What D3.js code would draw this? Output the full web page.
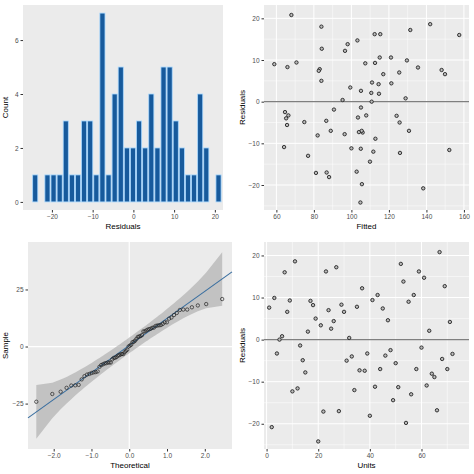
<!DOCTYPE html><html><head><meta charset="utf-8">
<script src="https://cdn.jsdelivr.net/npm/d3@7"></script>
<style>body{margin:0;background:#fff}text{font-family:"Liberation Sans",Arial,sans-serif}</style></head><body>
<svg id="c" width="474" height="474"></svg>
<script>
const binStart=-24.1, binWidth=1.5;
const binCounts=[1,0,1,1,1,3,1,1,3,3,1,7,1,4,5,2,2,3,2,4,2,5,5,3,2,1,1,4,2,0,1];
const residuals=[7.6,-20.8,9.9,-3.3,0,0.8,16,6.6,9.3,-12.3,18.6,-11.6,-1.4,-4.9,-7.8,1.9,9.2,8.2,5,-24.2,3.4,-17.1,16.2,7,2.6,4.4,17.2,-17,8.3,6.6,-5,0.4,-4,-12,7.8,-7.3,12.2,-7.4,-3.3,-18.1,9.4,-11.2,10.6,-7,7.4,-3.8,4.6,-2.5,-14.4,-5.6,-11.3,18,13.8,-19.8,9,-13,10.6,-7,16.2,-1.9,14.7,-10.9,2.1,-8.1,-8.9,-16.8,20.8,-4.6,12.7,-7,4.2,-3.4];
const fitted=[148.1,138.3,129.6,107.9,110.8,128.9,157.5,149.9,112.6,125.9,142,152.2,105.1,74.9,96.4,114.7,107.4,135.5,84,104.8,99.4,81.1,112.4,125.5,105.1,121.3,131.4,86.8,65.9,117,125.7,95.3,65.2,111.7,83.1,104,96.6,106,66.4,88.1,70.7,100,115.1,105.5,82.6,103.5,111,64.6,109.9,65.7,105,84,98,105.6,58.9,76.9,121.1,89,115.4,90.7,103.2,64.1,110.6,82,112.8,102.8,68,86.6,84.2,130.7,114.5,124.1];
const units=residuals.map((d,i)=>i+1);
const histTicksX=[-20,-10,0,10,20], histTicksY=[0,2,4,6];
const fitTicksX=[60,80,100,120,140,160], resTicksY=[-20,-10,0,10,20];
const qqTicksX=[-2,-1,0,1,2], qqTicksY=[-25,0,25], unitTicksX=[0,20,40,60];

const svg=d3.select("#c");
const PANEL="#ebebeb", TXT="#4d4d4d";
function panel(x0,x1,y0,y1,xd,yd){
  const g=svg.append("g");
  g.append("rect").attr("x",x0).attr("y",y0).attr("width",x1-x0).attr("height",y1-y0).attr("fill",PANEL);
  return {g,x:d3.scaleLinear().domain(xd).range([x0,x1]),y:d3.scaleLinear().domain(yd).range([y1,y0])};
}
function axes(p,xt,yt,xl,yl,ylx){
  const [x0,x1]=p.x.range(),[y1,y0]=p.y.range();
  const ax=svg.append("g").attr("transform",`translate(0,${y1})`).call(d3.axisBottom(p.x).tickValues(xt).tickSize(2.5).tickPadding(2));
  const ay=svg.append("g").attr("transform",`translate(${x0},0)`).call(d3.axisLeft(p.y).tickValues(yt).tickSize(2.5).tickPadding(2));
  [ax,ay].forEach(a=>{a.select(".domain").remove();a.selectAll("line").attr("stroke","#333");a.selectAll("text").attr("fill",TXT).attr("font-size",6.5);});
  svg.append("text").attr("x",(x0+x1)/2).attr("y",y1+19).attr("text-anchor","middle").attr("font-size",8).attr("fill","#000").text(xl);
  svg.append("text").attr("transform",`translate(${ylx},${(y0+y1)/2}) rotate(-90)`).attr("text-anchor","middle").attr("font-size",8).attr("fill","#000").text(yl);
}
function grid(p,xs,ys,w,c){
  const [x0,x1]=p.x.range(),[y1,y0]=p.y.range();
  xs.forEach(v=>p.g.append("line").attr("x1",p.x(v)).attr("x2",p.x(v)).attr("y1",y0).attr("y2",y1).attr("stroke",c||"#fff").attr("stroke-width",w));
  ys.forEach(v=>p.g.append("line").attr("y1",p.y(v)).attr("y2",p.y(v)).attr("x1",x0).attr("x2",x1).attr("stroke",c||"#fff").attr("stroke-width",w));
}
// Histogram
{
 const p=panel(23,223,5,210,[-27.1,22],[-0.3,7.3]);
 p.g.selectAll("rect.b").data(binCounts.map((c,i)=>({c,i})).filter(d=>d.c>0)).join("rect")
  .attr("x",d=>p.x(binStart+d.i*binWidth-binWidth/2)+0.5).attr("width",p.x(binWidth)-p.x(0)-1)
  .attr("y",d=>p.y(d.c)).attr("height",d=>p.y(0)-p.y(d.c))
  .attr("fill","#175a9c").attr("stroke","#a8d8ff").attr("stroke-width",0.8);
 axes(p,histTicksX,histTicksY,"Residuals","Count",8);
}
// Residuals vs fitted
function resPlot(x0,x1,y0,y1,xd,xs,xt,xl,xmin){
 const p=panel(x0,x1,y0,y1,xd,[-26,23.2]);
 grid(p,xmin,[-25,-15,-5,5,15],0.5);
 grid(p,xt,resTicksY,1);
 p.g.append("line").attr("x1",x0).attr("x2",x1).attr("y1",p.y(0)).attr("y2",p.y(0)).attr("stroke","#7f7f7f").attr("stroke-width",1.3);
 p.g.selectAll("circle").data(residuals).join("circle").attr("cx",(d,i)=>p.x(xs[i])).attr("cy",d=>p.y(d)).attr("r",1.7)
  .attr("fill","#bbb").attr("stroke","#222").attr("stroke-width",0.9);
 axes(p,xt,resTicksY,xl,"Residuals",x0-19);
}
resPlot(264,469,5,210,[53.4,162.7],fitted,fitTicksX,"Fitted",[70,90,110,130,150]);
resPlot(264,469,242,449,[-1,78.4],units,unitTicksX,"Units",[10,30,50,70]);
// QQ
{
 const n=residuals.length;
 function qnorm(p){const a=[-39.69683028665376,220.9460984245205,-275.9285104469687,138.3577518672690,-30.66479806614716,2.506628277459239],b=[-54.47609879822406,161.5858368580409,-155.6989798598866,66.80131188771972,-13.28068155288572],c=[-0.007784894002430293,-0.3223964580411365,-2.400758277161838,-2.549732539343734,4.374664141464968,2.938163982698783],d=[0.007784695709041462,0.3224671290700398,2.445134137142996,3.754408661907416];const pl=0.02425;let q,r;
  if(p<pl){q=Math.sqrt(-2*Math.log(p));return(((((c[0]*q+c[1])*q+c[2])*q+c[3])*q+c[4])*q+c[5])/((((d[0]*q+d[1])*q+d[2])*q+d[3])*q+1);}
  if(p>1-pl){q=Math.sqrt(-2*Math.log(1-p));return-(((((c[0]*q+c[1])*q+c[2])*q+c[3])*q+c[4])*q+c[5])/((((d[0]*q+d[1])*q+d[2])*q+d[3])*q+1);}
  q=p-0.5;r=q*q;return(((((a[0]*r+a[1])*r+a[2])*r+a[3])*r+a[4])*r+a[5])*q/(((((b[0]*r+b[1])*r+b[2])*r+b[3])*r+b[4])*r+1);}
 const s=residuals.slice().sort(d3.ascending);
 const pts=s.map((v,i)=>{const pp=(i+0.5)/n;return {t:qnorm(pp),v,pp};});
 const q1=d3.quantile(s,0.25),q3=d3.quantile(s,0.75),z1=qnorm(0.25),z3=qnorm(0.75);
 const slope=(q3-q1)/(z3-z1), icpt=q1-slope*z1;
 const p=panel(28,232,242,449,[-2.68,2.72],[-44.9,45.8]);
 grid(p,[0],[0],1.2);
 const dn=z=>Math.exp(-z*z/2)/Math.sqrt(2*Math.PI);
 const band=pts.map(d=>{const se=slope/dn(d.t)*Math.sqrt(d.pp*(1-d.pp)/n)*1.96;const f=icpt+slope*d.t;return {t:d.t,lo:f-se,hi:f+se};});
 p.g.append("path").datum(band).attr("d",d3.area().x(d=>p.x(d.t)).y0(d=>p.y(d.lo)).y1(d=>p.y(d.hi))).attr("fill","#a6a6a6").attr("opacity",0.6);
 const xd=p.x.domain();
 p.g.append("line").attr("x1",p.x(xd[0])).attr("x2",p.x(xd[1])).attr("y1",p.y(icpt+slope*xd[0])).attr("y2",p.y(icpt+slope*xd[1])).attr("stroke","#3a6fa0").attr("stroke-width",1.1);
 p.g.selectAll("circle").data(pts).join("circle").attr("cx",d=>p.x(d.t)).attr("cy",d=>p.y(d.v)).attr("r",1.7).attr("fill","none").attr("stroke","#222").attr("stroke-width",0.7);
 axes(p,qqTicksX,qqTicksY,"Theoretical","Sample",8);
}
</script></body></html>
